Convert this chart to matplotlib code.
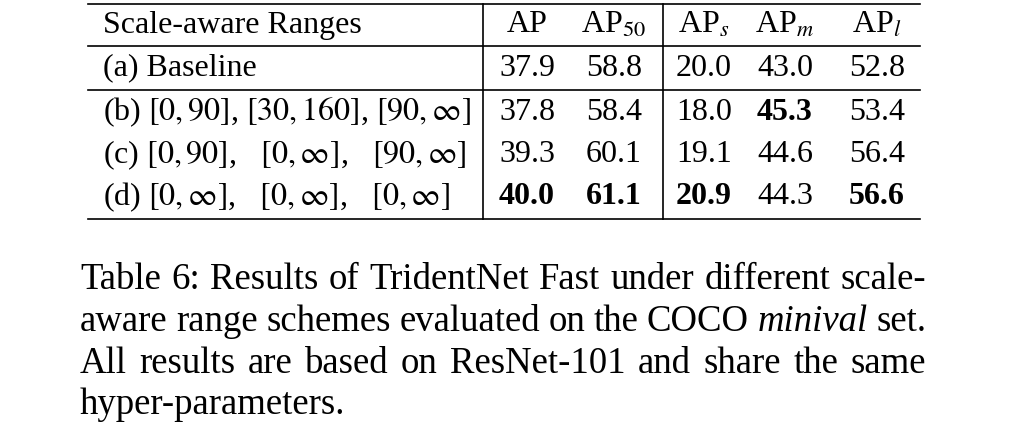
import matplotlib
matplotlib.use("Agg")
import matplotlib.pyplot as plt

plt.rcParams['font.family'] = ['Liberation Serif', 'DejaVu Serif']
plt.rcParams['mathtext.fontset'] = 'stix'

W, H = 1010, 437
headers = ["Scale-aware Ranges", "AP", "AP$_{50}$", "AP$_{s}$", "AP$_{m}$", "AP$_{l}$"]
row_labels = ["(a) Baseline",
              r"(b) $[0, 90]$, $[30, 160]$, $[90, \infty]$",
              r"(c) $[0, 90]$,   $[0, \infty]$,   $[90, \infty]$",
              r"(d) $[0, \infty]$,   $[0, \infty]$,   $[0, \infty]$"]
ap   = [37.9, 37.8, 39.3, 40.0]
ap50 = [58.8, 58.4, 60.1, 61.1]
aps  = [20.0, 18.0, 19.1, 20.9]
apm  = [43.0, 45.3, 44.6, 44.3]
apl  = [52.8, 53.4, 56.4, 56.6]
caption = [
    "Table 6: Results of TridentNet Fast under different scale-",
    "aware range schemes evaluated on the COCO *minival set.",
    "All results are based on ResNet-101 and share the same",
    "hyper-parameters.",
]

fig = plt.figure(figsize=(W/100, H/100), dpi=100)
ax = fig.add_axes([0, 0, 1, 1])
ax.set_xlim(0, W); ax.set_ylim(H, 0); ax.axis('off')

fs = 23
col_x = [527, 614, 704, 785, 877]
row_y = [68, 112, 155, 197]
head_y = 25
ax.text(103, head_y, headers[0], fontsize=fs, va='center', ha='left')
for x, h in zip(col_x, headers[1:]):
    ax.text(x, head_y, h, fontsize=fs, va='center', ha='center')
cols = [ap, ap50, aps, apm, apl]
for i, (y, lab) in enumerate(zip(row_y, row_labels)):
    ax.text(103, y, lab, fontsize=fs, va='center', ha='left')
    for x, c in zip(col_x, cols):
        bold = c[i] == max(c)
        ax.text(x, y, f"{c[i]:.1f}", fontsize=fs, va='center', ha='center',
                fontweight='bold' if bold else 'normal')
for y in [4, 46, 90, 219]:
    ax.plot([88, 920], [y, y], color='black', lw=1.2)
for x in [483, 663]:
    ax.plot([x, x], [4, 219], color='black', lw=1.2)

# justified caption
cfs = 26.5
fig.canvas.draw()
r = fig.canvas.get_renderer()
x0, x1 = 80, 926
cap_y = [280, 322, 364, 405]
for li, (line, y) in enumerate(zip(caption, cap_y)):
    words = line.split(" ")
    arts = []
    for w in words:
        it = w.startswith("*")
        w = w.lstrip("*")
        arts.append(ax.text(0, y, w, fontsize=cfs, va='center', ha='left',
                            style='italic' if it else 'normal'))
    widths = [a.get_window_extent(r).width for a in arts]
    if li < len(caption) - 1:
        gap = (x1 - x0 - sum(widths)) / (len(arts) - 1)
    else:
        gap = 8
    x = x0
    for a, w in zip(arts, widths):
        a.set_x(x)
        x += w + gap

fig.savefig("out.png", dpi=100)
